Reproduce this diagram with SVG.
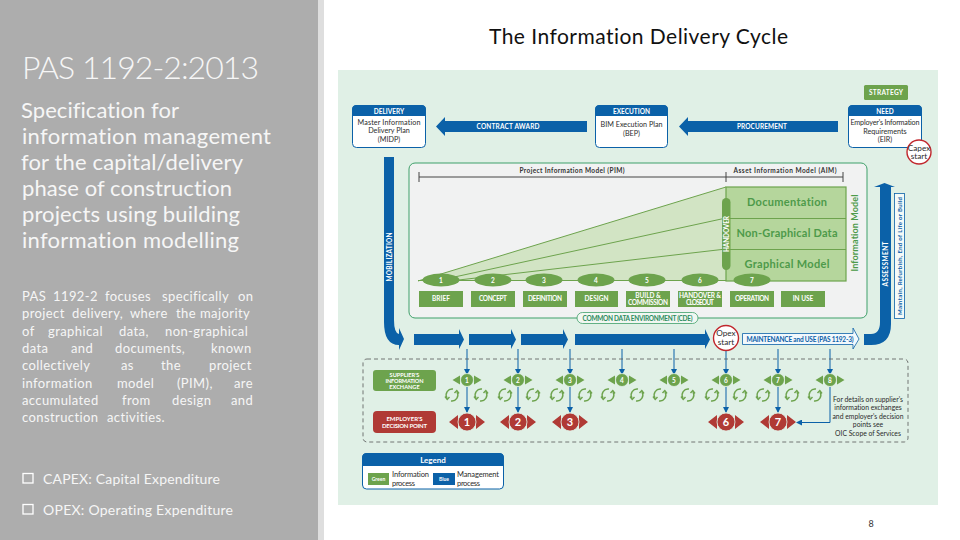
<svg xmlns="http://www.w3.org/2000/svg" width="960" height="540" viewBox="0 0 960 540">
<style>
text{font-family:Lato,"Open Sans","Liberation Sans",sans-serif;font-variant-ligatures:none}
.side{fill:#f6f6f6}
.t{text-anchor:middle}
.wb{fill:#fff;font-weight:700;text-anchor:middle}
.dk{fill:#2b2b2b;text-anchor:middle}
.st{text-anchor:start}
.blu{fill:#0b61a8}
.grn{fill:#6da34d}
.red{fill:#b03a35}
.card{fill:#fff;stroke:#0b61a8;stroke-width:1}
.gl{stroke:#6da34d;stroke-width:1;fill:none}
.pt{stroke:#0b61a8;stroke-width:1;fill:none;marker-end:url(#ah)}
.bar{stroke:#444;stroke-width:1;fill:none}
.ring{fill:#fff;stroke:#c1272d;stroke-width:1.4}
</style>
<defs>
<marker id="ah" markerUnits="userSpaceOnUse" markerWidth="6" markerHeight="6" refX="5" refY="3" orient="auto"><path d="M0 0L6 3L0 6Z" fill="#0b61a8"/></marker>
<g id="gm"><path d="M-14.500 0L-7 -4.500V4.500ZM14.500 0L7 -4.500V4.500Z" fill="#6da34d"/><circle r="6.500" fill="#6da34d" stroke="#e0f0e6" stroke-width="0.800"/></g>
<g id="rm"><path d="M-18 0L-9 -7V7ZM18 0L9 -7V7Z" fill="#b03a35"/><circle r="9" fill="#b03a35" stroke="#e0f0e6" stroke-width="0.800"/></g>
<g id="cy" fill="none" stroke="#6da34d" stroke-width="1.400"><path d="M1 -6A6 6 0 0 0 -5 3"/><path d="M-1 6A6 6 0 0 0 5 -3"/><path d="M-7 1.500L-4.800 4.500L-2.500 2" /><path d="M7 -1.500L4.800 -4.500L2.500 -2"/></g>
</defs>
<rect width="960" height="540" fill="#fff"/>
<g id="side-panel">
<rect width="318" height="540" fill="#adadad"/>
<rect x="318" width="6" height="540" fill="#dedede"/>
<text class="side" x="22" y="79" font-size="32" font-weight="300" textLength="237">PAS 1192-2:2013</text>
<g font-size="22">
<text class="side" x="21" y="118" textLength="158">Specification for</text>
<text class="side" x="22" y="144" textLength="249">information management</text>
<text class="side" x="21" y="170" textLength="222">for the capital/delivery</text>
<text class="side" x="22" y="196" textLength="210">phase of construction</text>
<text class="side" x="22" y="222" textLength="218">projects using building</text>
<text class="side" x="22" y="248" textLength="217">information modelling</text>
</g>
<g font-size="13" letter-spacing="0.400">
<text class="side" y="301"><tspan x="22">PAS</tspan><tspan x="53">1192-2</tspan><tspan x="105">focuses</tspan><tspan x="162">specifically</tspan><tspan x="238">on</tspan></text>
<text class="side" y="318.300"><tspan x="22">project</tspan><tspan x="72">delivery,</tspan><tspan x="130">where</tspan><tspan x="176">the</tspan><tspan x="200">majority</tspan></text>
<text class="side" y="335.600"><tspan x="22">of</tspan><tspan x="48">graphical</tspan><tspan x="119">data,</tspan><tspan x="165">non-graphical</tspan></text>
<text class="side" y="352.900"><tspan x="22">data</tspan><tspan x="71">and</tspan><tspan x="115">documents,</tspan><tspan x="211">known</tspan></text>
<text class="side" y="370.200"><tspan x="22">collectively</tspan><tspan x="121">as</tspan><tspan x="161">the</tspan><tspan x="209">project</tspan></text>
<text class="side" y="387.500"><tspan x="22">information</tspan><tspan x="117">model</tspan><tspan x="177">(PIM),</tspan><tspan x="234">are</tspan></text>
<text class="side" y="404.800"><tspan x="22">accumulated</tspan><tspan x="122">from</tspan><tspan x="172">design</tspan><tspan x="231">and</tspan></text>
<text class="side" y="422"><tspan x="22">construction</tspan><tspan x="107">activities.</tspan></text>
</g>
<rect x="23" y="473.500" width="10" height="9.500" fill="none" stroke="#fff" stroke-width="1.300"/>
<text class="side" x="43" y="484" font-size="14" textLength="177">CAPEX: Capital Expenditure</text>
<rect x="23" y="504.500" width="10" height="9.500" fill="none" stroke="#fff" stroke-width="1.300"/>
<text class="side" x="43" y="515" font-size="14" textLength="190">OPEX: Operating Expenditure</text>
</g>
<text id="title" x="489" y="44" font-size="21" fill="#111" textLength="299">The Information Delivery Cycle</text>
<text id="page" x="871" y="527" font-size="9" fill="#333" text-anchor="middle">8</text>
<rect id="figure-bg" x="338" y="70" width="600" height="435" fill="#e0f0e6"/>
<g id="info-panel">
<rect x="409" y="163" width="458" height="155" rx="6" fill="#f1f2f2" stroke="#3fa06a" stroke-width="1"/>
<path class="bar" d="M419 177H843M419 172V182M726 172V182M843 172V182"/>
<text x="572" y="173" font-size="6.500" font-weight="700" fill="#333" class="t" textLength="105">Project Information Model (PIM)</text>
<text x="785" y="173" font-size="6.500" font-weight="700" fill="#333" class="t" textLength="103">Asset Information Model (AIM)</text>
<polygon points="418,281 726,187 726,281" fill="#d2e4c4"/>
<path class="gl" d="M418 281L726 187M436 281L726 218M450 281L726 249M418 280.500H726"/>
</g>
<g id="model-block">
<rect x="726" y="187" width="120" height="94" fill="#b5d69c" stroke="#6da34d" stroke-width="1.200"/>
<path class="gl" d="M726 218.500H846M726 249.500H846"/>
<text x="787" y="206" font-size="11" font-weight="700" fill="#4d9a4a" class="t" textLength="80">Documentation</text>
<text x="787" y="237" font-size="11" font-weight="700" fill="#4d9a4a" class="t" textLength="101">Non-Graphical Data</text>
<text x="787" y="268" font-size="11" font-weight="700" fill="#4d9a4a" class="t" textLength="85">Graphical Model</text>
</g>
<g id="handover"><rect x="722" y="198" width="8.500" height="72" rx="4.200" class="grn"/><text class="wb" font-size="6.500" transform="translate(728.500 234) rotate(-90)" textLength="36">HANDOVER</text></g>
<text id="information-model" transform="translate(858 233) rotate(-90)" font-size="9" font-weight="700" fill="#4d9a4a" class="t" textLength="77">Information Model</text>
<g id="stages" font-size="6.500">
<g id="stage-1"><ellipse cx="441" cy="280" rx="18.500" ry="6.500" class="grn"/><text class="wb" x="441" y="283">1</text></g>
<g id="stage-2"><ellipse cx="493" cy="280" rx="18.500" ry="6.500" class="grn"/><text class="wb" x="493" y="283">2</text></g>
<g id="stage-3"><ellipse cx="544" cy="280" rx="18.500" ry="6.500" class="grn"/><text class="wb" x="544" y="283">3</text></g>
<g id="stage-4"><ellipse cx="596" cy="280" rx="18.500" ry="6.500" class="grn"/><text class="wb" x="596" y="283">4</text></g>
<g id="stage-5"><ellipse cx="647" cy="280" rx="18.500" ry="6.500" class="grn"/><text class="wb" x="647" y="283">5</text></g>
<g id="stage-6"><ellipse cx="700" cy="280" rx="18.500" ry="6.500" class="grn"/><text class="wb" x="700" y="283">6</text></g>
<g id="stage-7"><ellipse cx="752" cy="280" rx="18.500" ry="6.500" class="grn"/><text class="wb" x="752" y="283">7</text></g>
</g>
<g id="phases" font-size="6.500">
<g id="brief"><rect x="419" y="291" width="44" height="16" class="grn"/><text class="wb" x="441" y="301">BRIEF</text></g>
<g id="concept"><rect x="471" y="291" width="44" height="16" class="grn"/><text class="wb" x="493" y="301" textLength="28">CONCEPT</text></g>
<g id="definition"><rect x="523" y="291" width="44" height="16" class="grn"/><text class="wb" x="545" y="301" textLength="34">DEFINITION</text></g>
<g id="design"><rect x="575" y="291" width="43" height="16" class="grn"/><text class="wb" x="596.500" y="301">DESIGN</text></g>
<g id="build"><rect x="626" y="291" width="44" height="16" class="grn"/><text class="wb" x="648" y="298">BUILD &amp;</text><text class="wb" x="648" y="304.500" textLength="40">COMMISSION</text></g>
<g id="closeout"><rect x="678" y="291" width="44" height="16" class="grn"/><text class="wb" x="700" y="298" textLength="42">HANDOVER &amp;</text><text class="wb" x="700" y="304.500" textLength="28">CLOSEOUT</text></g>
<g id="operation"><rect x="730" y="291" width="44" height="16" class="grn"/><text class="wb" x="752" y="301" textLength="34">OPERATION</text></g>
<g id="in-use"><rect x="781" y="291" width="44" height="16" class="grn"/><text class="wb" x="803" y="301">IN USE</text></g>
</g>
<g id="cde"><rect x="577" y="312.500" width="121" height="11" rx="5.500" fill="#f1f7f2" stroke="#3fa06a" stroke-width="0.800"/><text x="637.500" y="320.500" font-size="6.500" font-weight="700" fill="#2e8c5e" class="t" textLength="110">COMMON DATA ENVIRONMENT (CDE)</text></g>
<g id="strategy"><rect x="864" y="85" width="44" height="15" rx="1.500" class="grn"/><text class="wb" font-size="6.500" x="886" y="94.500" textLength="34">STRATEGY</text></g>
<g id="delivery" font-size="7.200"><rect x="352.500" y="105.500" width="73" height="42" rx="4" class="card"/><path class="blu" d="M352 116V109.500Q352 105 356.500 105H421.500Q426 105 426 109.500V116Z"/><text class="wb" font-size="6.500" x="389" y="113.500">DELIVERY</text><text class="dk" x="389" y="124.500" textLength="63">Master Information</text><text class="dk" x="389" y="133">Delivery Plan</text><text class="dk" x="389" y="141.500">(MIDP)</text></g>
<g id="execution" font-size="7.200"><rect x="595.500" y="105.500" width="72" height="42" rx="4" class="card"/><path class="blu" d="M595 116V109.500Q595 105 599.500 105H663.500Q668 105 668 109.500V116Z"/><text class="wb" font-size="6.500" x="631.500" y="113.500">EXECUTION</text><text class="dk" x="631.500" y="127" textLength="62">BIM Execution Plan</text><text class="dk" x="631.500" y="136">(BEP)</text></g>
<g id="need" font-size="7.200"><rect x="848.500" y="105.500" width="73" height="42" rx="4" class="card"/><path class="blu" d="M848 116V109.500Q848 105 852.500 105H917.500Q922 105 922 109.500V116Z"/><text class="wb" font-size="6.500" x="885" y="113.500">NEED</text><text class="dk" x="885" y="125" textLength="69">Employer's Information</text><text class="dk" x="885" y="134">Requirements</text><text class="dk" x="885" y="142">(EIR)</text></g>
<g id="capex" font-size="8.200"><circle cx="919" cy="152" r="12" class="ring"/><text class="dk" x="919" y="150.500">Capex</text><text class="dk" x="919" y="159">start</text></g>
<g id="opex" font-size="8.200"><circle cx="726" cy="338" r="12.500" class="ring"/><text class="dk" x="726" y="336">Opex</text><text class="dk" x="726" y="345">start</text></g>
<g id="connectors">
<g id="flow-arrows" class="blu">
<path d="M436 126.500L445 117V121H587V132H445V136Z"/>
<path d="M679 126.500L688 117V121H838V132H688V136Z"/>
<path d="M384 157H394V320Q394 333 399 334V328L404 339L399 350V345Q384 345 384 322Z"/>
<path d="M414 334H459V329L464 339.500L459 349V345H414Z"/>
<path d="M469 334H511V329L516 339.500L511 349V345H469Z"/>
<path d="M521 334H563V329L568 339.500L563 349V345H521Z"/>
<path d="M575 334H705V329L710 339.500L705 349V345H575Z"/>
<path d="M864 334H871Q880 334 880 322V187H874L884.500 183L895 187H891V324Q891 345 871 345H864Z"/>
</g>
<path id="maintenance-arrow" d="M742.500 333.500H853V328L859 339L853 349V344.500H742.500Z" fill="#f2f8fc" stroke="#0b61a8" stroke-width="0.800"/>
<g id="pointers">
<path class="pt" d="M467 349V374"/><path class="pt" d="M467 387V412"/>
<path class="pt" d="M518 349V374"/><path class="pt" d="M518 387V412"/>
<path class="pt" d="M570 349V374"/><path class="pt" d="M570 387V412"/>
<path class="pt" d="M622 349V374"/>
<path class="pt" d="M674 349V374"/>
<path class="pt" d="M726 351V374"/><path class="pt" d="M726 387V412"/>
<path class="pt" d="M778 349V374"/><path class="pt" d="M778 387V412"/>
<path class="pt" d="M830 349V374"/>
<path class="pt" d="M830 387V422.500H797"/>
</g>
<rect id="review-frame" x="363" y="359" width="545" height="83" rx="4" fill="none" stroke="#555" stroke-width="0.800" stroke-dasharray="4 3"/>
</g>
<g id="flow-labels" font-size="6.500">
<text class="wb" x="508" y="129" textLength="63">CONTRACT AWARD</text>
<text class="wb" x="762" y="129" textLength="50">PROCUREMENT</text>
<text class="wb" transform="translate(391.500 257) rotate(-90)" textLength="49">MOBILIZATION</text>
<text class="wb" transform="translate(888 264) rotate(-90)" textLength="45">ASSESSMENT</text>
<text x="800" y="341.500" font-weight="700" fill="#0b61a8" class="t" textLength="107">MAINTENANCE and USE (PAS 1192-3)</text>
</g>
<g id="life-box"><rect x="894.500" y="193.500" width="10" height="125" fill="#f5faf8" stroke="#0b61a8" stroke-width="0.800"/><text class="t" transform="translate(902 256) rotate(-90)" font-size="6" font-weight="700" fill="#0b61a8" textLength="118">Maintain, Refurbish, End of Life or Build</text></g>
<g id="suppliers" font-size="5.600"><rect x="373" y="370" width="63" height="21" rx="3" class="grn"/><text class="wb" x="404.500" y="376.500">SUPPLIER'S</text><text class="wb" x="404.500" y="382.500" textLength="38">INFORMATION</text><text class="wb" x="404.500" y="388.500">EXCHANGE</text></g>
<g id="employers" font-size="6"><rect x="373" y="411" width="63" height="22" rx="4" class="red"/><text class="wb" x="404.500" y="420.500">EMPLOYER'S</text><text class="wb" x="404.500" y="427.500" textLength="45">DECISION POINT</text></g>
<g id="exchange-marks" font-size="6.500">
<use href="#gm" x="467" y="380"/><use href="#gm" x="518" y="380"/><use href="#gm" x="570" y="380"/><use href="#gm" x="622" y="380"/><use href="#gm" x="674" y="380"/><use href="#gm" x="726" y="380"/><use href="#gm" x="778" y="380"/><use href="#gm" x="830" y="380"/>
<text class="wb" x="467" y="382.500">1</text><text class="wb" x="518" y="382.500">2</text><text class="wb" x="570" y="382.500">3</text><text class="wb" x="622" y="382.500">4</text><text class="wb" x="674" y="382.500">5</text><text class="wb" x="726" y="382.500">6</text><text class="wb" x="778" y="382.500">7</text><text class="wb" x="830" y="382.500">8</text>
</g>
<g id="cycles">
<use href="#cy" x="452" y="395"/><use href="#cy" x="481" y="395"/><use href="#cy" x="505" y="395"/><use href="#cy" x="533" y="395"/><use href="#cy" x="557" y="395"/><use href="#cy" x="585" y="395"/><use href="#cy" x="608" y="395"/><use href="#cy" x="637" y="395"/><use href="#cy" x="660" y="395"/><use href="#cy" x="688" y="395"/><use href="#cy" x="712" y="395"/><use href="#cy" x="740" y="395"/><use href="#cy" x="763" y="395"/><use href="#cy" x="792" y="395"/><use href="#cy" x="815" y="395"/>
</g>
<g id="decision-marks" font-size="11">
<use href="#rm" x="467" y="422"/><use href="#rm" x="518" y="422"/><use href="#rm" x="570" y="422"/><use href="#rm" x="726" y="422"/><use href="#rm" x="778" y="422"/>
<text x="467" y="426" class="wb">1</text><text x="518" y="426" class="wb">2</text><text x="570" y="426" class="wb">3</text><text x="726" y="426" class="wb">6</text><text x="778" y="426" class="wb">7</text>
</g>
<g id="scope-note" font-size="6.800">
<text class="dk" x="868" y="402">For details on supplier's</text>
<text class="dk" x="868" y="410">information exchanges</text>
<text class="dk" x="868" y="419">and employer's decision</text>
<text class="dk" x="868" y="427">points see</text>
<text class="dk" x="868" y="436">OIC Scope of Services</text>
</g>
<g id="legend">
<rect x="362.500" y="453.500" width="141" height="35.500" rx="4" class="card"/>
<path class="blu" d="M362 466V458Q362 453 367 453H499Q504 453 504 458V466Z"/>
<text x="433" y="462.500" font-size="8" class="wb">Legend</text>
<rect x="368" y="473" width="21" height="12" class="grn"/><text class="wb" x="378.500" y="481" font-size="5">Green</text>
<text class="dk st" font-size="7.500" x="392" y="477" textLength="37">Information</text><text class="dk st" font-size="7.500" x="392" y="486" textLength="23">process</text>
<rect x="433" y="473" width="22" height="12" class="blu"/><text class="wb" x="444" y="481" font-size="5">Blue</text>
<text class="dk st" font-size="7.500" x="457" y="477" textLength="42">Management</text><text class="dk st" font-size="7.500" x="457" y="486" textLength="23">process</text>
</g>
</svg>
